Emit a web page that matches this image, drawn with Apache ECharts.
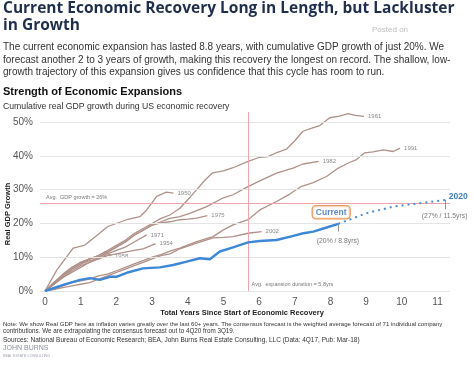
<!DOCTYPE html>
<html><head><meta charset="utf-8">
<script src="https://cdn.jsdelivr.net/npm/echarts@6/dist/echarts.min.js"></script>
<style>html,body{margin:0;padding:0;background:#fff;}#c{width:474px;height:366px;}</style>
</head><body><div id="c"></div>
<script>
// ---- data (years since start, cumulative real GDP growth %) ----
var xTicks = [0,1,2,3,4,5,6,7,8,9,10,11];
var yTicks = [0,10,20,30,40,50];
var s1961 = [[0,0],[0.25,2.5],[0.5,4.5],[0.75,6.5],[1,8.5],[1.25,9.5],[1.5,10.5],[1.75,12],[2,13.5],[2.25,15],[2.5,17],[2.75,18.5],[3,20],[3.25,21.5],[3.5,22.5],[3.78,24.5],[4,27],[4.3,30.6],[4.5,33],[4.7,35],[5,35.6],[5.27,36.5],[5.69,38.4],[6.02,39.6],[6.25,39.8],[6.5,41],[6.78,42.1],[7,44.5],[7.23,47.3],[7.5,48.3],[7.7,49],[7.98,51.3],[8.25,51.8],[8.49,52.5],[8.7,52],[8.94,51.7]];
var s1991 = [[0,0],[0.25,0.5],[0.5,1.5],[0.75,2.5],[1,3],[1.25,3.5],[1.5,4.5],[1.75,5],[2,6],[2.25,7],[2.5,8],[2.75,9],[3,10],[3.25,10.8],[3.5,11.8],[3.78,12.7],[4.25,14.6],[4.71,16.1],[5,18.1],[5.27,19.6],[5.69,21.1],[6.02,24],[6.49,26.5],[6.86,28.7],[7.19,31],[7.5,32],[7.89,33.9],[8.22,36.4],[8.5,37.9],[8.73,38.9],[8.96,40.9],[9.19,41.2],[9.48,41.8],[9.76,41.3],[9.95,42.3]];
var s1982 = [[0,0],[0.25,2.5],[0.5,5],[0.75,7],[1,8.5],[1.25,9.5],[1.5,10],[1.75,11.5],[2,13],[2.25,14.5],[2.5,16.5],[2.75,18],[3,19.5],[3.25,20.5],[3.5,21.5],[3.78,22],[4.06,23],[4.53,25],[5,27.6],[5.27,28.5],[5.65,30.7],[6.02,32.6],[6.49,34.9],[6.95,36.4],[7.23,37.6],[7.67,38.4]];
var s1950 = [[0,0],[0.33,6.2],[0.61,10.2],[0.79,12.7],[1.12,13.6],[1.4,16],[1.76,19.1],[2.29,21.1],[2.66,22],[2.85,24],[3.13,28],[3.4,29.3],[3.6,29]];
var s1975 = [[0,0],[0.25,2],[0.5,4],[0.75,6],[1,7.5],[1.25,8.5],[1.5,10],[1.75,11.5],[2,13],[2.25,14.5],[2.5,16.5],[2.75,18],[3,19.5],[3.25,20.2],[3.5,20.5],[3.78,21.1],[4,21.3],[4.25,21.6],[4.55,22.3]];
var s1971 = [[0,0],[0.25,2],[0.5,4],[0.75,5.5],[1,7],[1.25,8.5],[1.5,9.5],[1.75,11],[2,12],[2.25,13],[2.5,14.5],[2.85,16.6]];
var s1954 = [[0,0],[0.25,2.5],[0.5,4.5],[0.75,6.5],[1,8],[1.25,9],[1.5,9.5],[1.75,10.5],[2,11],[2.25,11.5],[2.5,12],[2.75,12.5],[3.1,14]];
var s1958 = [[0,0],[0.25,2],[0.5,4.5],[0.75,6.5],[1,8],[1.25,9.5],[1.5,10.5],[1.7,11.7],[1.85,10.4]];
var s2002 = [[0,0],[0.25,0.5],[0.5,1],[0.75,1.5],[1,2],[1.25,2.5],[1.5,3.5],[1.75,4.5],[2,5.5],[2.25,6.5],[2.5,7.5],[2.75,8.5],[3,9.5],[3.25,10.5],[3.5,11],[3.78,12.5],[4.25,14.2],[4.71,15.7],[5,15.9],[5.27,16.1],[5.69,17.1],[6.07,17.6]];
var current = [[0,0],[0.51,1.8],[0.98,3.3],[1.26,3.8],[1.54,3.3],[1.82,4.2],[2,4.2],[2.29,5.4],[2.75,6.7],[3.22,7],[3.59,7.7],[3.97,8.7],[4.34,9.7],[4.62,9.4],[4.9,11.7],[5.27,12.9],[5.69,14.4],[6.02,14.8],[6.49,15.1],[6.96,16.3],[7.24,17.1],[7.52,17.6],[7.89,18.8],[8.22,19.9]];
var forecast = [[8.22,19.9],[9,23],[9.76,25],[10.5,26],[11.23,27]];
var avgGrowth = 26;
var avgDuration = 5.7;

var hist = [['1961',s1961],['1991',s1991],['1982',s1982],['1950',s1950],['1975',s1975],['1971',s1971],['1954',s1954],['1958',s1958],['2002',s2002]];

var chart = echarts.init(document.getElementById('c'), null, {renderer:'canvas'});
var FF = 'Liberation Sans, Arial, sans-serif';
var brown = '#b0918a';
var series = [];
// gridlines
series.push({type:'line', data:[], silent:true, markLine:{silent:true, symbol:'none', label:{show:false},
  lineStyle:{color:'#e4e4e4', width:1, type:'solid'}, data: yTicks.map(function(v){return {yAxis:v};})}});
// avg lines
series.push({type:'line', data:[], silent:true, markLine:{silent:true, symbol:'none', label:{show:false},
  lineStyle:{color:'#f2a3ab', width:1, type:'solid'}, data:[{yAxis:avgGrowth},{xAxis:avgDuration}]}});
hist.forEach(function(h){
  series.push({type:'line', name:h[0], data:h[1], symbol:'none', smooth:false,
    lineStyle:{color:brown, width:1.3},
    endLabel:{show:true, formatter:h[0], fontSize:6, color:'#8a8a8a', distance:4, fontFamily:FF}});
});
series.push({type:'line', name:'Current', data:current, symbol:'none', lineStyle:{color:'#3d88d6', width:2.4}, z:5});
series.push({type:'line', name:'Forecast', data:forecast, symbol:'none', lineStyle:{color:'#4a8fd6', width:2, type:[2,4]}, z:5,
  endLabel:{show:true, formatter:'2020', fontSize:8.5, fontWeight:'bold', color:'#3f7fc4', distance:3, offset:[0,-3], fontFamily:FF},
  markLine:{silent:true, symbol:'none', label:{show:false}, lineStyle:{color:'#777', width:0.8, type:'solid'},
    data:[[{coord:[8.22,19.9]},{coord:[8.22,17.6]}],[{coord:[11.23,27]},{coord:[11.23,24.2]}]]}});
// annotations
series.push({type:'scatter', symbolSize:0, silent:true, z:6, data:[
  {value:[8.02,23.3], label:{show:true, position:'inside', formatter:'Current', fontSize:8.5, fontWeight:'bold', color:'#2f6db5',
     borderColor:'#e57f35', borderWidth:1.3, borderRadius:3, padding:[2,3,1,3], backgroundColor:'#fff', fontFamily:FF}},
  {value:[8.21,14.8], label:{show:true, position:'inside', formatter:'(20% / 8.8yrs)', fontSize:6.8, color:'#555', fontFamily:FF}},
  {value:[11.2,22.1], label:{show:true, position:'inside', formatter:'(27% / 11.5yrs)', fontSize:6.8, color:'#555', fontFamily:FF}},
  {value:[0.03,27.6], label:{show:true, position:'right', distance:0, formatter:'Avg.  GDP growth = 26%', fontSize:5.5, color:'#555', fontFamily:FF}},
  {value:[5.79,1.8], label:{show:true, position:'right', distance:0, formatter:'Avg.  expansion duration = 5.8yrs', fontSize:5.5, color:'#555', fontFamily:FF}}
]});

var T = function(x,y,text,font,fill,extra){
  var o = {type:'text', x:x, y:y, silent:true, style:{text:text, font:font, fill:fill||'#333', textVerticalAlign:'middle'}};
  if (extra) for (var k in extra) o.style[k]=extra[k];
  return o;
};
var graphic = [
  T(3,9,'Current Economic Recovery Long in Length, but Lackluster','bold 15.5px "Open Sans", sans-serif','#1f2e4c'),
  T(3,25.5,'in Growth','bold 15.5px "Open Sans", sans-serif','#1f2e4c'),
  T(372,30,'Posted on','8px '+FF,'#bdbdbd'),
  T(3,47,'The current economic expansion has lasted 8.8 years, with cumulative GDP growth of just 20%. We','10px '+FF,'#333'),
  T(3,60,'forecast another 2 to 3 years of growth, making this recovery the longest on record. The shallow, low-','10px '+FF,'#333'),
  T(3,72,'growth trajectory of this expansion gives us confidence that this cycle has room to run.','10px '+FF,'#333'),
  T(3,92,'Strength of Economic Expansions','bold 11px '+FF,'#111'),
  T(3,107,'Cumulative real GDP growth during US economic recovery','8.7px '+FF,'#333'),
  {type:'text', x:8, y:214, rotation:Math.PI/2, silent:true, style:{text:'Real GDP Growth', font:'bold 7.5px '+FF, fill:'#222', textAlign:'center', textVerticalAlign:'middle'}},
  T(242,313,'Total Years Since Start of Economic Recovery','bold 7.5px '+FF,'#222',{textAlign:'center'}),
  T(3,324,'Note: We show Real GDP here as inflation varies greatly over the last 60+ years. The consensus forecast is the weighted average forecast of 71 individual company','6.05px '+FF,'#333'),
  T(3,331,'contributions. We are extrapolating the consensus forecast out to 4Q20 from 3Q19.','6.3px '+FF,'#333'),
  T(3,340,'Sources: National Bureau of Economic Research; BEA, John Burns Real Estate Consulting, LLC (Data: 4Q17, Pub: Mar-18)','6.5px '+FF,'#333'),
  T(3,348,'JOHN BURNS','7px '+FF,'#8a8f99'),
  T(3,356,'REAL ESTATE CONSULTING','3.5px '+FF,'#9a9fa8')
];

chart.setOption({
  animation:false,
  grid:{left:40, width:410, top:112, height:179},
  xAxis:{type:'value', min:-0.14, max:11.35, splitLine:{show:false}, axisLine:{show:false}, axisTick:{show:false},
    axisLabel:{customValues:xTicks, color:'#555', fontSize:10, fontFamily:FF, margin:6}},
  yAxis:{type:'value', min:0, max:53, splitLine:{show:false}, axisLine:{show:false}, axisTick:{show:false},
    axisLabel:{customValues:yTicks, formatter:'{value}%', color:'#555', fontSize:10, fontFamily:FF, margin:7}},
  series:series,
  graphic:graphic
});
</script></body></html>
